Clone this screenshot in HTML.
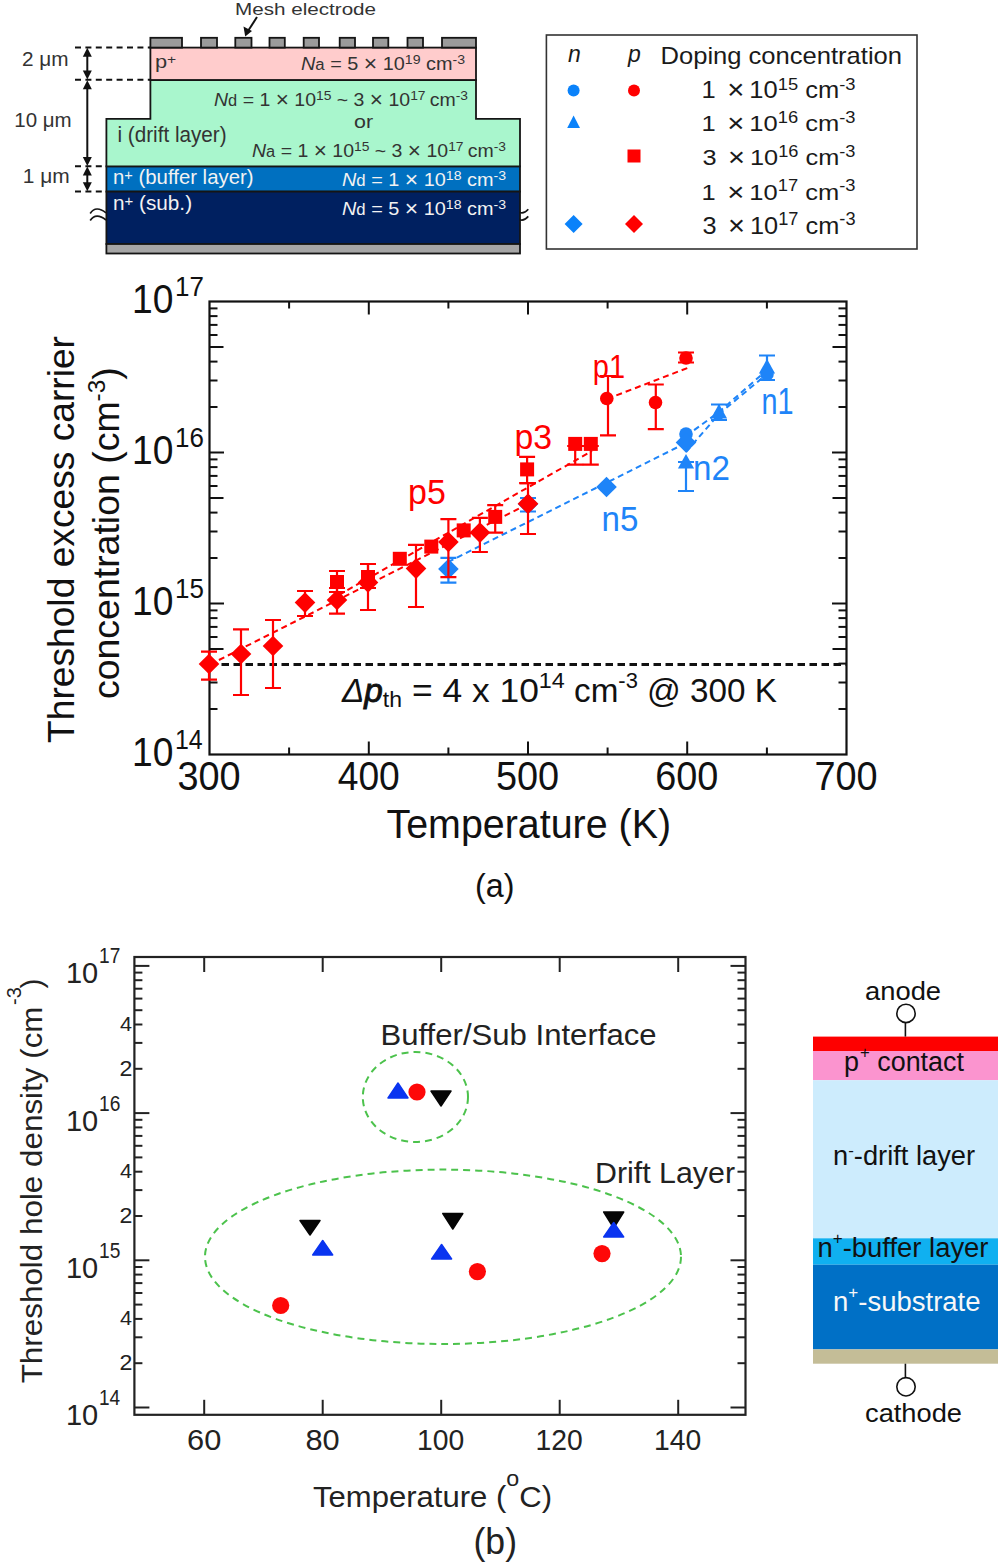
<!DOCTYPE html>
<html><head><meta charset="utf-8"><style>
html,body{margin:0;padding:0;background:#fff;overflow:hidden;}
svg{display:block;font-family:"Liberation Sans", sans-serif;}
</style></head><body>
<svg width="1000" height="1564" viewBox="0 0 1000 1564">
<g stroke="#151515" stroke-width="1.8">
<rect x="106.4" y="166.3" width="413.6" height="25.3" fill="#0070c0"/>
<rect x="106.4" y="191.6" width="413.6" height="52.4" fill="#002060"/>
<rect x="106.4" y="244" width="413.6" height="9.5" fill="#a6a6a6"/>
<path d="M150.4,80 H476 V118.8 H520 V166.3 H106.4 V118.8 H150.4 Z" fill="#a9f6cd"/>
<rect x="150.4" y="47.6" width="325.6" height="32.4" fill="#ffcccc"/>
<rect x="150.4" y="37.8" width="31.6" height="9.8" fill="#9b9b9b"/>
<rect x="201" y="37.8" width="16.0" height="9.8" fill="#9b9b9b"/>
<rect x="235.3" y="37.8" width="16.2" height="9.8" fill="#9b9b9b"/>
<rect x="269.5" y="37.8" width="15.3" height="9.8" fill="#9b9b9b"/>
<rect x="303.7" y="37.8" width="15.3" height="9.8" fill="#9b9b9b"/>
<rect x="339.7" y="37.8" width="15.3" height="9.8" fill="#9b9b9b"/>
<rect x="373" y="37.8" width="15.3" height="9.8" fill="#9b9b9b"/>
<rect x="407.5" y="37.8" width="15.5" height="9.8" fill="#9b9b9b"/>
<rect x="442" y="37.8" width="34.0" height="9.8" fill="#9b9b9b"/>
</g>
<g stroke="#111" stroke-width="2" stroke-dasharray="6,4.4">
<line x1="75" y1="47.5" x2="150" y2="47.5"/>
<line x1="75" y1="79.8" x2="150" y2="79.8"/>
<line x1="75" y1="166.3" x2="106" y2="166.3"/>
<line x1="75" y1="191.6" x2="106" y2="191.6"/>
</g>
<line x1="87.3" y1="53.8" x2="87.3" y2="73.6" stroke="#111" stroke-width="2"/>
<path d="M87.3,47.8 L82.8,56.8 L91.8,56.8 Z" fill="#111"/>
<path d="M87.3,79.6 L82.8,70.6 L91.8,70.6 Z" fill="#111"/>
<line x1="87.3" y1="86.2" x2="87.3" y2="160" stroke="#111" stroke-width="2"/>
<path d="M87.3,80.2 L82.8,89.2 L91.8,89.2 Z" fill="#111"/>
<path d="M87.3,166 L82.8,157 L91.8,157 Z" fill="#111"/>
<line x1="87.3" y1="172.6" x2="87.3" y2="185.3" stroke="#111" stroke-width="2"/>
<path d="M87.3,166.6 L82.8,175.6 L91.8,175.6 Z" fill="#111"/>
<path d="M87.3,191.3 L82.8,182.3 L91.8,182.3 Z" fill="#111"/>
<line x1="257" y1="17" x2="248" y2="31" stroke="#111" stroke-width="2"/>
<path d="M245.2,36.5 L243.5,26.5 L252,31 Z" fill="#111"/>
<path d="M90.2,213.4 Q96,204.9 106,212.8" fill="none" stroke="#151515" stroke-width="1.7"/>
<path d="M519.5,212.3 Q523.5,214.6 528.3,209.2" fill="none" stroke="#151515" stroke-width="1.7"/>
<path d="M90.2,220.6 Q96,212.1 106,220.0" fill="none" stroke="#151515" stroke-width="1.7"/>
<path d="M519.5,219.5 Q523.5,221.79999999999998 528.3,216.39999999999998" fill="none" stroke="#151515" stroke-width="1.7"/>
<text x="235.0" y="14.5" font-size="16.3" fill="#333" textLength="141.07" lengthAdjust="spacingAndGlyphs">Mesh electrode</text>
<text x="22.0" y="66.0" font-size="20.3" fill="#333" textLength="46.63" lengthAdjust="spacingAndGlyphs">2 μm</text>
<text x="14.25" y="126.5" font-size="20.3" fill="#333" textLength="57.4" lengthAdjust="spacingAndGlyphs">10 μm</text>
<text x="22.75" y="183.0" font-size="20.3" fill="#333" textLength="46.96" lengthAdjust="spacingAndGlyphs">1 μm</text>
<text x="155.0" y="68.0" font-size="18.5" fill="#333" textLength="21.29" lengthAdjust="spacingAndGlyphs">p<tspan font-size="0.72em" dy="-0.3em">+</tspan></text>
<text x="117.5" y="141.5" font-size="21.28" fill="#333" textLength="109.07" lengthAdjust="spacingAndGlyphs">i (drift layer)</text>
<text x="113.0" y="184.0" font-size="20.9" fill="#f2f2f2" textLength="140.52" lengthAdjust="spacingAndGlyphs">n<tspan font-size="0.72em" dy="-0.25em">+</tspan><tspan dy="0.18em"> (buffer layer)</tspan></text>
<text x="113.0" y="210.0" font-size="19.62" fill="#f2f2f2" textLength="79.06" lengthAdjust="spacingAndGlyphs">n<tspan font-size="0.72em" dy="-0.25em">+</tspan><tspan dy="0.18em"> (sub.)</tspan></text>
<text x="301.0" y="70.0" font-size="19" fill="#333" textLength="164.0" lengthAdjust="spacingAndGlyphs"><tspan font-style="italic">N</tspan><tspan font-size="16">a</tspan><tspan> = 5 </tspan><tspan font-size="22" dy="1">×</tspan><tspan dy="-1"> 10</tspan><tspan font-size="13.5" dy="-6">19</tspan><tspan dy="6"> cm</tspan><tspan font-size="13.5" dy="-6">-3</tspan></text>
<text x="214.0" y="106.0" font-size="19" fill="#333" textLength="254.01" lengthAdjust="spacingAndGlyphs"><tspan font-style="italic">N</tspan><tspan font-size="16">d</tspan><tspan> = 1 </tspan><tspan font-size="22" dy="1">×</tspan><tspan dy="-1"> 10</tspan><tspan font-size="13.5" dy="-6">15</tspan><tspan dy="6"> ~ 3 </tspan><tspan font-size="22" dy="1">×</tspan><tspan dy="-1"> 10</tspan><tspan font-size="13.5" dy="-6">17</tspan><tspan dy="6" dx="4">cm</tspan><tspan font-size="13.5" dy="-6">-3</tspan></text>
<text x="354.0" y="128.0" font-size="19" fill="#333" textLength="19.08" lengthAdjust="spacingAndGlyphs">or</text>
<text x="252.0" y="157.0" font-size="19" fill="#333" textLength="254.01" lengthAdjust="spacingAndGlyphs"><tspan font-style="italic">N</tspan><tspan font-size="16">a</tspan><tspan> = 1 </tspan><tspan font-size="22" dy="1">×</tspan><tspan dy="-1"> 10</tspan><tspan font-size="13.5" dy="-6">15</tspan><tspan dy="6"> ~ 3 </tspan><tspan font-size="22" dy="1">×</tspan><tspan dy="-1"> 10</tspan><tspan font-size="13.5" dy="-6">17</tspan><tspan dy="6" dx="4">cm</tspan><tspan font-size="13.5" dy="-6">-3</tspan></text>
<text x="342.0" y="186.0" font-size="19" fill="#f2f2f2" textLength="164.01" lengthAdjust="spacingAndGlyphs"><tspan font-style="italic">N</tspan><tspan font-size="16">d</tspan><tspan> = 1 </tspan><tspan font-size="22" dy="1">×</tspan><tspan dy="-1"> 10</tspan><tspan font-size="13.5" dy="-6">18</tspan><tspan dy="6"> cm</tspan><tspan font-size="13.5" dy="-6">-3</tspan></text>
<text x="342.0" y="215.0" font-size="19" fill="#f2f2f2" textLength="164.01" lengthAdjust="spacingAndGlyphs"><tspan font-style="italic">N</tspan><tspan font-size="16">d</tspan><tspan> = 5 </tspan><tspan font-size="22" dy="1">×</tspan><tspan dy="-1"> 10</tspan><tspan font-size="13.5" dy="-6">18</tspan><tspan dy="6"> cm</tspan><tspan font-size="13.5" dy="-6">-3</tspan></text>
<rect x="546.4" y="35" width="370.6" height="214" fill="none" stroke="#333" stroke-width="1.6"/>
<text x="568" y="62.3" font-size="23" fill="#1a1a1a" font-style="italic">n</text>
<text x="628" y="62.3" font-size="23" fill="#1a1a1a" font-style="italic">p</text>
<text x="660.5" y="63.7" font-size="24" fill="#1a1a1a" textLength="241.56" lengthAdjust="spacingAndGlyphs">Doping concentration</text>
<text x="701.5" y="98.0" font-size="23.64" fill="#1a1a1a" textLength="154.04" lengthAdjust="spacingAndGlyphs"><tspan>1 </tspan><tspan font-size="1.15em" dy="0.04em" dx="0.15em">×</tspan><tspan dy="-0.04em" dx="-0.08em"> 10</tspan><tspan font-size="0.72em" dy="-0.5em">15</tspan><tspan dy="0.36em"> cm</tspan><tspan font-size="0.72em" dy="-0.5em">-3</tspan></text>
<text x="701.5" y="131.0" font-size="22.91" fill="#1a1a1a" textLength="154.04" lengthAdjust="spacingAndGlyphs"><tspan>1 </tspan><tspan font-size="1.15em" dy="0.04em" dx="0.15em">×</tspan><tspan dy="-0.04em" dx="-0.08em"> 10</tspan><tspan font-size="0.72em" dy="-0.5em">16</tspan><tspan dy="0.36em"> cm</tspan><tspan font-size="0.72em" dy="-0.5em">-3</tspan></text>
<text x="702.5" y="165.0" font-size="22.91" fill="#1a1a1a" textLength="153.03" lengthAdjust="spacingAndGlyphs"><tspan>3 </tspan><tspan font-size="1.15em" dy="0.04em" dx="0.15em">×</tspan><tspan dy="-0.04em" dx="-0.08em"> 10</tspan><tspan font-size="0.72em" dy="-0.5em">16</tspan><tspan dy="0.36em"> cm</tspan><tspan font-size="0.72em" dy="-0.5em">-3</tspan></text>
<text x="701.5" y="199.5" font-size="22.96" fill="#1a1a1a" textLength="154.04" lengthAdjust="spacingAndGlyphs"><tspan>1 </tspan><tspan font-size="1.15em" dy="0.04em" dx="0.15em">×</tspan><tspan dy="-0.04em" dx="-0.08em"> 10</tspan><tspan font-size="0.72em" dy="-0.5em">17</tspan><tspan dy="0.36em"> cm</tspan><tspan font-size="0.72em" dy="-0.5em">-3</tspan></text>
<text x="702.5" y="233.5" font-size="24.75" fill="#1a1a1a" textLength="153.03" lengthAdjust="spacingAndGlyphs"><tspan>3 </tspan><tspan font-size="1.15em" dy="0.04em" dx="0.15em">×</tspan><tspan dy="-0.04em" dx="-0.08em"> 10</tspan><tspan font-size="0.72em" dy="-0.5em">17</tspan><tspan dy="0.36em"> cm</tspan><tspan font-size="0.72em" dy="-0.5em">-3</tspan></text>
<circle cx="573.6" cy="90.4" r="6" fill="#0a82fa"/>
<circle cx="634" cy="90.4" r="6" fill="#ff0000"/>
<path d="M573.6,115.6 L580,128 L567.2,128 Z" fill="#0a82fa"/>
<rect x="627.5" y="149.5" width="13" height="13" fill="#ff0000"/>
<path d="M573.6,215 L582.6,224 L573.6,233 L564.6,224 Z" fill="#0a82fa"/>
<path d="M634,215 L643,224 L634,233 L625,224 Z" fill="#ff0000"/>
<g stroke="#111" stroke-width="2">
<line x1="289.1" y1="754.5" x2="289.1" y2="747.5"/>
<line x1="289.1" y1="301.5" x2="289.1" y2="308.5"/>
<line x1="368.8" y1="754.5" x2="368.8" y2="741.5"/>
<line x1="368.8" y1="301.5" x2="368.8" y2="314.5"/>
<line x1="448.4" y1="754.5" x2="448.4" y2="747.5"/>
<line x1="448.4" y1="301.5" x2="448.4" y2="308.5"/>
<line x1="528.0" y1="754.5" x2="528.0" y2="741.5"/>
<line x1="528.0" y1="301.5" x2="528.0" y2="314.5"/>
<line x1="607.6" y1="754.5" x2="607.6" y2="747.5"/>
<line x1="607.6" y1="301.5" x2="607.6" y2="308.5"/>
<line x1="687.2" y1="754.5" x2="687.2" y2="741.5"/>
<line x1="687.2" y1="301.5" x2="687.2" y2="314.5"/>
<line x1="766.9" y1="754.5" x2="766.9" y2="747.5"/>
<line x1="766.9" y1="301.5" x2="766.9" y2="308.5"/>
<line x1="209.5" y1="709.0" x2="217.5" y2="709.0"/>
<line x1="846.5" y1="709.0" x2="838.5" y2="709.0"/>
<line x1="209.5" y1="682.5" x2="217.5" y2="682.5"/>
<line x1="846.5" y1="682.5" x2="838.5" y2="682.5"/>
<line x1="209.5" y1="663.6" x2="217.5" y2="663.6"/>
<line x1="846.5" y1="663.6" x2="838.5" y2="663.6"/>
<line x1="209.5" y1="649.0" x2="223.5" y2="649.0"/>
<line x1="846.5" y1="649.0" x2="832.5" y2="649.0"/>
<line x1="209.5" y1="637.0" x2="217.5" y2="637.0"/>
<line x1="846.5" y1="637.0" x2="838.5" y2="637.0"/>
<line x1="209.5" y1="626.9" x2="217.5" y2="626.9"/>
<line x1="846.5" y1="626.9" x2="838.5" y2="626.9"/>
<line x1="209.5" y1="618.1" x2="217.5" y2="618.1"/>
<line x1="846.5" y1="618.1" x2="838.5" y2="618.1"/>
<line x1="209.5" y1="610.4" x2="217.5" y2="610.4"/>
<line x1="846.5" y1="610.4" x2="838.5" y2="610.4"/>
<line x1="209.5" y1="603.5" x2="224.0" y2="603.5"/>
<line x1="846.5" y1="603.5" x2="832.0" y2="603.5"/>
<line x1="209.5" y1="558.0" x2="217.5" y2="558.0"/>
<line x1="846.5" y1="558.0" x2="838.5" y2="558.0"/>
<line x1="209.5" y1="531.5" x2="217.5" y2="531.5"/>
<line x1="846.5" y1="531.5" x2="838.5" y2="531.5"/>
<line x1="209.5" y1="512.6" x2="217.5" y2="512.6"/>
<line x1="846.5" y1="512.6" x2="838.5" y2="512.6"/>
<line x1="209.5" y1="498.0" x2="223.5" y2="498.0"/>
<line x1="846.5" y1="498.0" x2="832.5" y2="498.0"/>
<line x1="209.5" y1="486.0" x2="217.5" y2="486.0"/>
<line x1="846.5" y1="486.0" x2="838.5" y2="486.0"/>
<line x1="209.5" y1="475.9" x2="217.5" y2="475.9"/>
<line x1="846.5" y1="475.9" x2="838.5" y2="475.9"/>
<line x1="209.5" y1="467.1" x2="217.5" y2="467.1"/>
<line x1="846.5" y1="467.1" x2="838.5" y2="467.1"/>
<line x1="209.5" y1="459.4" x2="217.5" y2="459.4"/>
<line x1="846.5" y1="459.4" x2="838.5" y2="459.4"/>
<line x1="209.5" y1="452.5" x2="224.0" y2="452.5"/>
<line x1="846.5" y1="452.5" x2="832.0" y2="452.5"/>
<line x1="209.5" y1="407.0" x2="217.5" y2="407.0"/>
<line x1="846.5" y1="407.0" x2="838.5" y2="407.0"/>
<line x1="209.5" y1="380.5" x2="217.5" y2="380.5"/>
<line x1="846.5" y1="380.5" x2="838.5" y2="380.5"/>
<line x1="209.5" y1="361.6" x2="217.5" y2="361.6"/>
<line x1="846.5" y1="361.6" x2="838.5" y2="361.6"/>
<line x1="209.5" y1="347.0" x2="223.5" y2="347.0"/>
<line x1="846.5" y1="347.0" x2="832.5" y2="347.0"/>
<line x1="209.5" y1="335.0" x2="217.5" y2="335.0"/>
<line x1="846.5" y1="335.0" x2="838.5" y2="335.0"/>
<line x1="209.5" y1="324.9" x2="217.5" y2="324.9"/>
<line x1="846.5" y1="324.9" x2="838.5" y2="324.9"/>
<line x1="209.5" y1="316.1" x2="217.5" y2="316.1"/>
<line x1="846.5" y1="316.1" x2="838.5" y2="316.1"/>
<line x1="209.5" y1="308.4" x2="217.5" y2="308.4"/>
<line x1="846.5" y1="308.4" x2="838.5" y2="308.4"/>
</g>
<rect x="209.5" y="301.5" width="637.0" height="453.0" fill="none" stroke="#111" stroke-width="2.2"/>
<line x1="209.5" y1="664.5" x2="846.5" y2="664.5" stroke="#111" stroke-width="3" stroke-dasharray="7.5,4.5"/>
<text x="177.5" y="790.0" font-size="40.44" fill="#111" textLength="63.16" lengthAdjust="spacingAndGlyphs">300</text>
<text x="337.75" y="790.0" font-size="40.44" fill="#111" textLength="62.07" lengthAdjust="spacingAndGlyphs">400</text>
<text x="496.0" y="790.0" font-size="40.44" fill="#111" textLength="63.16" lengthAdjust="spacingAndGlyphs">500</text>
<text x="655.25" y="790.0" font-size="40.44" fill="#111" textLength="63.18" lengthAdjust="spacingAndGlyphs">600</text>
<text x="814.5" y="790.0" font-size="40.44" fill="#111" textLength="63.16" lengthAdjust="spacingAndGlyphs">700</text>
<text x="132.0" y="312.5" font-size="40.44" fill="#111" textLength="41.38" lengthAdjust="spacingAndGlyphs">10</text>
<text x="175.0" y="295.5" font-size="27.44" fill="#111" textLength="28.85" lengthAdjust="spacingAndGlyphs">17</text>
<text x="132.0" y="463.5" font-size="40.44" fill="#111" textLength="41.38" lengthAdjust="spacingAndGlyphs">10</text>
<text x="175.0" y="446.5" font-size="27.44" fill="#111" textLength="28.85" lengthAdjust="spacingAndGlyphs">16</text>
<text x="132.0" y="614.5" font-size="40.44" fill="#111" textLength="41.38" lengthAdjust="spacingAndGlyphs">10</text>
<text x="175.0" y="597.5" font-size="27.44" fill="#111" textLength="28.85" lengthAdjust="spacingAndGlyphs">15</text>
<text x="132.0" y="765.5" font-size="40.44" fill="#111" textLength="41.38" lengthAdjust="spacingAndGlyphs">10</text>
<text x="175.0" y="748.5" font-size="27.44" fill="#111" textLength="27.74" lengthAdjust="spacingAndGlyphs">14</text>
<text x="386.5" y="838.0" font-size="40.17" fill="#111" textLength="284.53" lengthAdjust="spacingAndGlyphs">Temperature (K)</text>
<text transform="translate(73.5,743) rotate(-90)" font-size="37" fill="#111" textLength="407" lengthAdjust="spacingAndGlyphs">Threshold excess carrier</text>
<text transform="translate(119,699) rotate(-90)" font-size="37" fill="#111" textLength="331.7" lengthAdjust="spacingAndGlyphs">concentration (cm<tspan font-size="24" dy="-14">-3</tspan><tspan dy="14">)</tspan></text>
<text x="342.0" y="701.8" font-size="33" fill="#111" textLength="60.0" lengthAdjust="spacingAndGlyphs"><tspan font-style="italic">Δ</tspan><tspan font-style="italic" stroke="#111" stroke-width="0.9">p</tspan><tspan font-size="0.69em" dy="0.22em">th</tspan></text>
<text x="412.0" y="701.8" font-size="33" fill="#111" textLength="152.81" lengthAdjust="spacingAndGlyphs">= 4 x 10<tspan font-size="0.66em" dy="-0.62em">14</tspan></text>
<text x="574.0" y="701.8" font-size="33" fill="#111" textLength="203.01" lengthAdjust="spacingAndGlyphs">cm<tspan font-size="0.66em" dy="-0.62em">-3</tspan><tspan dy="0.41em"> @ 300 K</tspan></text>
<g stroke-width="2" stroke-dasharray="6,4" fill="none">
<line x1="210" y1="664.5" x2="528" y2="504" stroke="#ff0000"/>
<line x1="330" y1="600" x2="592" y2="451" stroke="#ff0000"/>
<line x1="607" y1="399" x2="690" y2="367" stroke="#ff0000"/>
<line x1="448" y1="562" x2="686" y2="443" stroke="#1e84f8"/>
<polyline points="686,436 719,412 767,370" stroke="#1e84f8"/>
<polyline points="686,452 719,414 767,374" stroke="#1e84f8"/>
</g>
<path d="M448.4,557.8 V582.6 M440.4,557.8 H456.4 M440.4,582.6 H456.4" stroke="#1e84f8" stroke-width="2.2" fill="none"/>
<path d="M448.4,558.7 L458.7,569 L448.4,579.3 L438.09999999999997,569 Z" fill="#1e84f8"/>
<path d="M528,498 V511.5 M520.0,498 H536.0 M520.0,511.5 H536.0" stroke="#1e84f8" stroke-width="2.2" fill="none"/>
<path d="M528,493.7 L538.3,504 L528,514.3 L517.7,504 Z" fill="#1e84f8"/>
<path d="M606.5,476.7 L616.8,487 L606.5,497.3 L596.2,487 Z" fill="#1e84f8"/>
<circle cx="686" cy="434" r="6.8" fill="#1e84f8"/>
<path d="M686,432.2 L696.3,442.5 L686,452.8 L675.7,442.5 Z" fill="#1e84f8"/>
<path d="M686,462 V491 M678.0,462 H694.0 M678.0,491 H694.0" stroke="#1e84f8" stroke-width="2.2" fill="none"/>
<path d="M686,454 L694.1,468.4 L677.9,468.4 Z" fill="#1e84f8"/>
<path d="M719,404.5 V420 M711.0,404.5 H727.0 M711.0,420 H727.0" stroke="#1e84f8" stroke-width="2.2" fill="none"/>
<path d="M719,404 L727.1,418.4 L710.9,418.4 Z" fill="#1e84f8"/>
<circle cx="719" cy="415" r="5" fill="#1e84f8"/>
<path d="M767,355.5 V380 M759.0,355.5 H775.0 M759.0,380 H775.0" stroke="#1e84f8" stroke-width="2.2" fill="none"/>
<path d="M767,359 L775.1,373.4 L758.9,373.4 Z" fill="#1e84f8"/>
<circle cx="767" cy="374" r="6.8" fill="#1e84f8"/>
<path d="M209,651.6 V679.6 M201.0,651.6 H217.0 M201.0,679.6 H217.0" stroke="#ff0000" stroke-width="2.2" fill="none"/>
<path d="M209,653.7 L219.3,664 L209,674.3 L198.7,664 Z" fill="#ff0000"/>
<path d="M241,629.4 V695 M233.0,629.4 H249.0 M233.0,695 H249.0" stroke="#ff0000" stroke-width="2.2" fill="none"/>
<path d="M241,643.7 L251.3,654 L241,664.3 L230.7,654 Z" fill="#ff0000"/>
<path d="M273,620 V688 M265.0,620 H281.0 M265.0,688 H281.0" stroke="#ff0000" stroke-width="2.2" fill="none"/>
<path d="M273,635.7 L283.3,646 L273,656.3 L262.7,646 Z" fill="#ff0000"/>
<path d="M305,591 V616 M297.0,591 H313.0 M297.0,616 H313.0" stroke="#ff0000" stroke-width="2.2" fill="none"/>
<path d="M305,592.3000000000001 L315.3,602.6 L305,612.9 L294.7,602.6 Z" fill="#ff0000"/>
<path d="M337,588 V613.6 M329.0,588 H345.0 M329.0,613.6 H345.0" stroke="#ff0000" stroke-width="2.2" fill="none"/>
<path d="M337,589.7 L347.3,600 L337,610.3 L326.7,600 Z" fill="#ff0000"/>
<path d="M368,564 V610 M360.0,564 H376.0 M360.0,610 H376.0" stroke="#ff0000" stroke-width="2.2" fill="none"/>
<path d="M368,572.1 L378.3,582.4 L368,592.6999999999999 L357.7,582.4 Z" fill="#ff0000"/>
<path d="M416,544.8 V607 M408.0,544.8 H424.0 M408.0,607 H424.0" stroke="#ff0000" stroke-width="2.2" fill="none"/>
<path d="M416,558.3000000000001 L426.3,568.6 L416,578.9 L405.7,568.6 Z" fill="#ff0000"/>
<path d="M448.4,519.2 V577.2 M440.4,519.2 H456.4 M440.4,577.2 H456.4" stroke="#ff0000" stroke-width="2.2" fill="none"/>
<path d="M448.4,531.7 L458.7,542 L448.4,552.3 L438.09999999999997,542 Z" fill="#ff0000"/>
<path d="M479.9,517.8 V552 M471.9,517.8 H487.9 M471.9,552 H487.9" stroke="#ff0000" stroke-width="2.2" fill="none"/>
<path d="M479.9,522.3000000000001 L490.2,532.6 L479.9,542.9 L469.59999999999997,532.6 Z" fill="#ff0000"/>
<path d="M528,483.2 V534 M520.0,483.2 H536.0 M520.0,534 H536.0" stroke="#ff0000" stroke-width="2.2" fill="none"/>
<path d="M528,493.5 L538.3,503.8 L528,514.1 L517.7,503.8 Z" fill="#ff0000"/>
<path d="M337,571 V592 M329.0,571 H345.0 M329.0,592 H345.0" stroke="#ff0000" stroke-width="2.2" fill="none"/>
<rect x="330.0" y="575.0" width="14" height="14" fill="#ff0000"/>
<path d="M368,564 V588 M360.0,564 H376.0 M360.0,588 H376.0" stroke="#ff0000" stroke-width="2.2" fill="none"/>
<rect x="361.0" y="570.0" width="14" height="14" fill="#ff0000"/>
<rect x="392.8" y="551.8" width="14" height="14" fill="#ff0000"/>
<rect x="424.3" y="539.6" width="14" height="14" fill="#ff0000"/>
<rect x="456.7" y="523.4" width="14" height="14" fill="#ff0000"/>
<path d="M495.2,505.2 V532.6 M487.2,505.2 H503.2 M487.2,532.6 H503.2" stroke="#ff0000" stroke-width="2.2" fill="none"/>
<rect x="488.2" y="509.9" width="14" height="14" fill="#ff0000"/>
<path d="M527.1,456.9 V483.2 M519.1,456.9 H535.1 M519.1,483.2 H535.1" stroke="#ff0000" stroke-width="2.2" fill="none"/>
<rect x="520.1" y="462.4" width="14" height="14" fill="#ff0000"/>
<path d="M575.2,446 V464.7 M567.2,446 H583.2 M567.2,464.7 H583.2" stroke="#ff0000" stroke-width="2.2" fill="none"/>
<rect x="568.2" y="436.9" width="14" height="14" fill="#ff0000"/>
<path d="M590.8,446 V464.7 M582.8,446 H598.8 M582.8,464.7 H598.8" stroke="#ff0000" stroke-width="2.2" fill="none"/>
<rect x="583.8" y="436.9" width="14" height="14" fill="#ff0000"/>
<path d="M608,376 V435.3 M600.0,376 H616.0 M600.0,435.3 H616.0" stroke="#ff0000" stroke-width="2.2" fill="none"/>
<circle cx="606.8" cy="398.5" r="6.8" fill="#ff0000"/>
<path d="M655.8,384.5 V429.1 M647.8,384.5 H663.8 M647.8,429.1 H663.8" stroke="#ff0000" stroke-width="2.2" fill="none"/>
<circle cx="655.5" cy="402.5" r="6.8" fill="#ff0000"/>
<path d="M686,352.5 V362.5 M678.0,352.5 H694.0 M678.0,362.5 H694.0" stroke="#ff0000" stroke-width="2.2" fill="none"/>
<circle cx="686" cy="358" r="6.8" fill="#ff0000"/>
<text x="592.75" y="378.25" font-size="34.14" fill="#ff0000" textLength="32.26" lengthAdjust="spacingAndGlyphs">p1</text>
<text x="514.5" y="449.25" font-size="35.15" fill="#ff0000" textLength="37.61" lengthAdjust="spacingAndGlyphs">p3</text>
<text x="408.0" y="504.0" font-size="35.34" fill="#ff0000" textLength="37.78" lengthAdjust="spacingAndGlyphs">p5</text>
<text x="601.5" y="531.0" font-size="34.55" fill="#1e84f8" textLength="36.86" lengthAdjust="spacingAndGlyphs">n5</text>
<text x="693.0" y="480.0" font-size="35.09" fill="#1e84f8" textLength="36.87" lengthAdjust="spacingAndGlyphs">n2</text>
<text x="761.5" y="413.5" font-size="36.54" fill="#1e84f8" textLength="32.08" lengthAdjust="spacingAndGlyphs">n1</text>
<text x="475.0" y="897.0" font-size="33.93" fill="#111" textLength="39.45" lengthAdjust="spacingAndGlyphs">(a)</text>
<g stroke="#222" stroke-width="2">
<line x1="204.2" y1="1414.8" x2="204.2" y2="1399.8"/>
<line x1="204.2" y1="957" x2="204.2" y2="972"/>
<line x1="322.7" y1="1414.8" x2="322.7" y2="1399.8"/>
<line x1="322.7" y1="957" x2="322.7" y2="972"/>
<line x1="441.2" y1="1414.8" x2="441.2" y2="1399.8"/>
<line x1="441.2" y1="957" x2="441.2" y2="972"/>
<line x1="559.7" y1="1414.8" x2="559.7" y2="1399.8"/>
<line x1="559.7" y1="957" x2="559.7" y2="972"/>
<line x1="678.2" y1="1414.8" x2="678.2" y2="1399.8"/>
<line x1="678.2" y1="957" x2="678.2" y2="972"/>
<line x1="134.4" y1="1407.5" x2="149.4" y2="1407.5"/>
<line x1="745.5" y1="1407.5" x2="730.5" y2="1407.5"/>
<line x1="134.4" y1="1363.2" x2="142.4" y2="1363.2"/>
<line x1="745.5" y1="1363.2" x2="737.5" y2="1363.2"/>
<line x1="134.4" y1="1337.3" x2="142.4" y2="1337.3"/>
<line x1="745.5" y1="1337.3" x2="737.5" y2="1337.3"/>
<line x1="134.4" y1="1318.9" x2="142.4" y2="1318.9"/>
<line x1="745.5" y1="1318.9" x2="737.5" y2="1318.9"/>
<line x1="134.4" y1="1304.6" x2="142.4" y2="1304.6"/>
<line x1="745.5" y1="1304.6" x2="737.5" y2="1304.6"/>
<line x1="134.4" y1="1293.0" x2="142.4" y2="1293.0"/>
<line x1="745.5" y1="1293.0" x2="737.5" y2="1293.0"/>
<line x1="134.4" y1="1283.1" x2="142.4" y2="1283.1"/>
<line x1="745.5" y1="1283.1" x2="737.5" y2="1283.1"/>
<line x1="134.4" y1="1274.6" x2="142.4" y2="1274.6"/>
<line x1="745.5" y1="1274.6" x2="737.5" y2="1274.6"/>
<line x1="134.4" y1="1267.0" x2="142.4" y2="1267.0"/>
<line x1="745.5" y1="1267.0" x2="737.5" y2="1267.0"/>
<line x1="134.4" y1="1260.3" x2="149.4" y2="1260.3"/>
<line x1="745.5" y1="1260.3" x2="730.5" y2="1260.3"/>
<line x1="134.4" y1="1216.0" x2="142.4" y2="1216.0"/>
<line x1="745.5" y1="1216.0" x2="737.5" y2="1216.0"/>
<line x1="134.4" y1="1190.1" x2="142.4" y2="1190.1"/>
<line x1="745.5" y1="1190.1" x2="737.5" y2="1190.1"/>
<line x1="134.4" y1="1171.7" x2="142.4" y2="1171.7"/>
<line x1="745.5" y1="1171.7" x2="737.5" y2="1171.7"/>
<line x1="134.4" y1="1157.4" x2="142.4" y2="1157.4"/>
<line x1="745.5" y1="1157.4" x2="737.5" y2="1157.4"/>
<line x1="134.4" y1="1145.8" x2="142.4" y2="1145.8"/>
<line x1="745.5" y1="1145.8" x2="737.5" y2="1145.8"/>
<line x1="134.4" y1="1135.9" x2="142.4" y2="1135.9"/>
<line x1="745.5" y1="1135.9" x2="737.5" y2="1135.9"/>
<line x1="134.4" y1="1127.4" x2="142.4" y2="1127.4"/>
<line x1="745.5" y1="1127.4" x2="737.5" y2="1127.4"/>
<line x1="134.4" y1="1119.8" x2="142.4" y2="1119.8"/>
<line x1="745.5" y1="1119.8" x2="737.5" y2="1119.8"/>
<line x1="134.4" y1="1113.1" x2="149.4" y2="1113.1"/>
<line x1="745.5" y1="1113.1" x2="730.5" y2="1113.1"/>
<line x1="134.4" y1="1068.8" x2="142.4" y2="1068.8"/>
<line x1="745.5" y1="1068.8" x2="737.5" y2="1068.8"/>
<line x1="134.4" y1="1042.9" x2="142.4" y2="1042.9"/>
<line x1="745.5" y1="1042.9" x2="737.5" y2="1042.9"/>
<line x1="134.4" y1="1024.5" x2="142.4" y2="1024.5"/>
<line x1="745.5" y1="1024.5" x2="737.5" y2="1024.5"/>
<line x1="134.4" y1="1010.2" x2="142.4" y2="1010.2"/>
<line x1="745.5" y1="1010.2" x2="737.5" y2="1010.2"/>
<line x1="134.4" y1="998.6" x2="142.4" y2="998.6"/>
<line x1="745.5" y1="998.6" x2="737.5" y2="998.6"/>
<line x1="134.4" y1="988.7" x2="142.4" y2="988.7"/>
<line x1="745.5" y1="988.7" x2="737.5" y2="988.7"/>
<line x1="134.4" y1="980.2" x2="142.4" y2="980.2"/>
<line x1="745.5" y1="980.2" x2="737.5" y2="980.2"/>
<line x1="134.4" y1="972.6" x2="142.4" y2="972.6"/>
<line x1="745.5" y1="972.6" x2="737.5" y2="972.6"/>
<line x1="134.4" y1="965.9" x2="149.4" y2="965.9"/>
<line x1="745.5" y1="965.9" x2="730.5" y2="965.9"/>
</g>
<rect x="134.4" y="957" width="611.1" height="457.79999999999995" fill="none" stroke="#222" stroke-width="2.2"/>
<text x="187.0" y="1450.0" font-size="30.26" fill="#222" textLength="34.26" lengthAdjust="spacingAndGlyphs">60</text>
<text x="305.5" y="1450.0" font-size="30.26" fill="#222" textLength="34.22" lengthAdjust="spacingAndGlyphs">80</text>
<text x="417.0" y="1450.0" font-size="30.26" fill="#222" textLength="47.23" lengthAdjust="spacingAndGlyphs">100</text>
<text x="535.5" y="1450.0" font-size="30.26" fill="#222" textLength="47.16" lengthAdjust="spacingAndGlyphs">120</text>
<text x="654.0" y="1450.0" font-size="30.26" fill="#222" textLength="47.23" lengthAdjust="spacingAndGlyphs">140</text>
<text x="66.0" y="1424.5" font-size="30.1" fill="#222" textLength="32.26" lengthAdjust="spacingAndGlyphs">10</text>
<text x="99.0" y="1405.0" font-size="22.63" fill="#222" textLength="21.14" lengthAdjust="spacingAndGlyphs">14</text>
<text x="120.0" y="1325.38" font-size="20.83" fill="#222" textLength="12.04" lengthAdjust="spacingAndGlyphs">4</text>
<text x="119.5" y="1370.44" font-size="22.1" fill="#222" textLength="12.88" lengthAdjust="spacingAndGlyphs">2</text>
<text x="66.0" y="1277.5" font-size="30.1" fill="#222" textLength="32.26" lengthAdjust="spacingAndGlyphs">10</text>
<text x="99.0" y="1258.0" font-size="22.63" fill="#222" textLength="21.32" lengthAdjust="spacingAndGlyphs">15</text>
<text x="120.0" y="1178.38" font-size="20.83" fill="#222" textLength="12.04" lengthAdjust="spacingAndGlyphs">4</text>
<text x="119.5" y="1223.44" font-size="22.1" fill="#222" textLength="12.88" lengthAdjust="spacingAndGlyphs">2</text>
<text x="66.0" y="1130.5" font-size="30.1" fill="#222" textLength="32.26" lengthAdjust="spacingAndGlyphs">10</text>
<text x="99.0" y="1111.0" font-size="22.63" fill="#222" textLength="21.32" lengthAdjust="spacingAndGlyphs">16</text>
<text x="120.0" y="1031.38" font-size="20.83" fill="#222" textLength="12.04" lengthAdjust="spacingAndGlyphs">4</text>
<text x="119.5" y="1076.44" font-size="22.1" fill="#222" textLength="12.88" lengthAdjust="spacingAndGlyphs">2</text>
<text x="66.0" y="982.5" font-size="30.1" fill="#222" textLength="32.26" lengthAdjust="spacingAndGlyphs">10</text>
<text x="99.0" y="963.0" font-size="22.63" fill="#222" textLength="21.27" lengthAdjust="spacingAndGlyphs">17</text>
<text x="313.0" y="1506.5" font-size="30" fill="#222" textLength="239.03" lengthAdjust="spacingAndGlyphs">Temperature (<tspan font-size="0.75em" dy="-0.93em">o</tspan><tspan dy="0.7em">C)</tspan></text>
<text transform="translate(41.6,1383.3) rotate(-90)" font-size="30" fill="#222" textLength="376.8" lengthAdjust="spacingAndGlyphs">Threshold hole density (cm</text>
<text transform="translate(20.6,1005) rotate(-90)" font-size="20" fill="#222">-3</text>
<text transform="translate(41.6,988.5) rotate(-90)" font-size="30" fill="#222">)</text>
<text x="380.5" y="1045.0" font-size="30.21" fill="#222" textLength="276.05" lengthAdjust="spacingAndGlyphs">Buffer/Sub Interface</text>
<text x="595.0" y="1183.0" font-size="28.86" fill="#222" textLength="140.05" lengthAdjust="spacingAndGlyphs">Drift Layer</text>
<ellipse cx="415.4" cy="1097" rx="52.6" ry="45" fill="none" stroke="#4cc24c" stroke-width="2" stroke-dasharray="7,5"/>
<ellipse cx="443" cy="1256.8" rx="238" ry="87.2" fill="none" stroke="#4cc24c" stroke-width="2" stroke-dasharray="7,5"/>
<path d="M398,1083 L408.0,1098 L388.0,1098 Z" fill="#0a34f0" stroke="#0a34f0" stroke-width="1.5" stroke-linejoin="round"/>
<circle cx="417" cy="1092" r="8.6" fill="#fe0808"/>
<path d="M431.0,1091 L451.0,1091 L441,1106 Z" fill="#050505" stroke="#050505" stroke-width="1.5" stroke-linejoin="round"/>
<path d="M300.0,1220.5 L320.0,1220.5 L310,1235 Z" fill="#050505" stroke="#050505" stroke-width="1.5" stroke-linejoin="round"/>
<path d="M322.7,1240.5 L332.7,1255 L312.7,1255 Z" fill="#0a34f0" stroke="#0a34f0" stroke-width="1.5" stroke-linejoin="round"/>
<circle cx="280.7" cy="1305.5" r="8.6" fill="#fe0808"/>
<path d="M442.8,1213.5 L462.8,1213.5 L452.8,1229 Z" fill="#050505" stroke="#050505" stroke-width="1.5" stroke-linejoin="round"/>
<path d="M441.6,1244.5 L451.6,1259 L431.6,1259 Z" fill="#0a34f0" stroke="#0a34f0" stroke-width="1.5" stroke-linejoin="round"/>
<circle cx="477.4" cy="1271.6" r="8.6" fill="#fe0808"/>
<path d="M603.7,1212 L623.7,1212 L613.7,1228 Z" fill="#050505" stroke="#050505" stroke-width="1.5" stroke-linejoin="round"/>
<path d="M613.7,1222.5 L623.7,1237 L603.7,1237 Z" fill="#0a34f0" stroke="#0a34f0" stroke-width="1.5" stroke-linejoin="round"/>
<circle cx="602" cy="1253.6" r="8.6" fill="#fe0808"/>
<text x="473.5" y="1554.0" font-size="37.38" fill="#222" textLength="43.49" lengthAdjust="spacingAndGlyphs">(b)</text>
<rect x="813" y="1036.6" width="185" height="14.4" fill="#fe0000"/>
<rect x="813" y="1051" width="185" height="29.2" fill="#fb94cf"/>
<rect x="813" y="1080.2" width="185" height="158.1" fill="#cdecfd"/>
<rect x="813" y="1238.3" width="185" height="26.4" fill="#10b0f0"/>
<rect x="813" y="1264.7" width="185" height="84.7" fill="#0070c6"/>
<rect x="813" y="1349.4" width="185" height="14.3" fill="#c4bd97"/>
<circle cx="906" cy="1013.4" r="9.2" fill="#fff" stroke="#111" stroke-width="1.6"/>
<line x1="905.4" y1="1022.6" x2="905.4" y2="1036.6" stroke="#111" stroke-width="1.6"/>
<circle cx="906" cy="1386.8" r="9.2" fill="#fff" stroke="#111" stroke-width="1.6"/>
<line x1="905.4" y1="1363.7" x2="905.4" y2="1377.6" stroke="#111" stroke-width="1.6"/>
<text x="865.0" y="999.5" font-size="25.46" fill="#111" textLength="76.06" lengthAdjust="spacingAndGlyphs">anode</text>
<text x="865.0" y="1422.0" font-size="25.21" fill="#111" textLength="97.05" lengthAdjust="spacingAndGlyphs">cathode</text>
<text x="844.0" y="1071.0" font-size="27" fill="#111" textLength="120.03" lengthAdjust="spacingAndGlyphs">p<tspan font-size="0.62em" dy="-0.75em" dx="0.06em">+</tspan><tspan dy="0.465em"> contact</tspan></text>
<text x="833.0" y="1164.5" font-size="27" fill="#111" textLength="142.03" lengthAdjust="spacingAndGlyphs">n<tspan font-size="0.62em" dy="-0.5em">-</tspan><tspan dy="0.31em">-drift layer</tspan></text>
<text x="817.5" y="1256.5" font-size="27" fill="#111" textLength="171.02" lengthAdjust="spacingAndGlyphs">n<tspan font-size="0.62em" dy="-0.75em">+</tspan><tspan dy="0.465em">-buffer layer</tspan></text>
<text x="833.0" y="1311.0" font-size="27" fill="#f8f8f8" textLength="147.55" lengthAdjust="spacingAndGlyphs">n<tspan font-size="0.62em" dy="-0.75em">+</tspan><tspan dy="0.465em">-substrate</tspan></text>
</svg>
</body></html>
